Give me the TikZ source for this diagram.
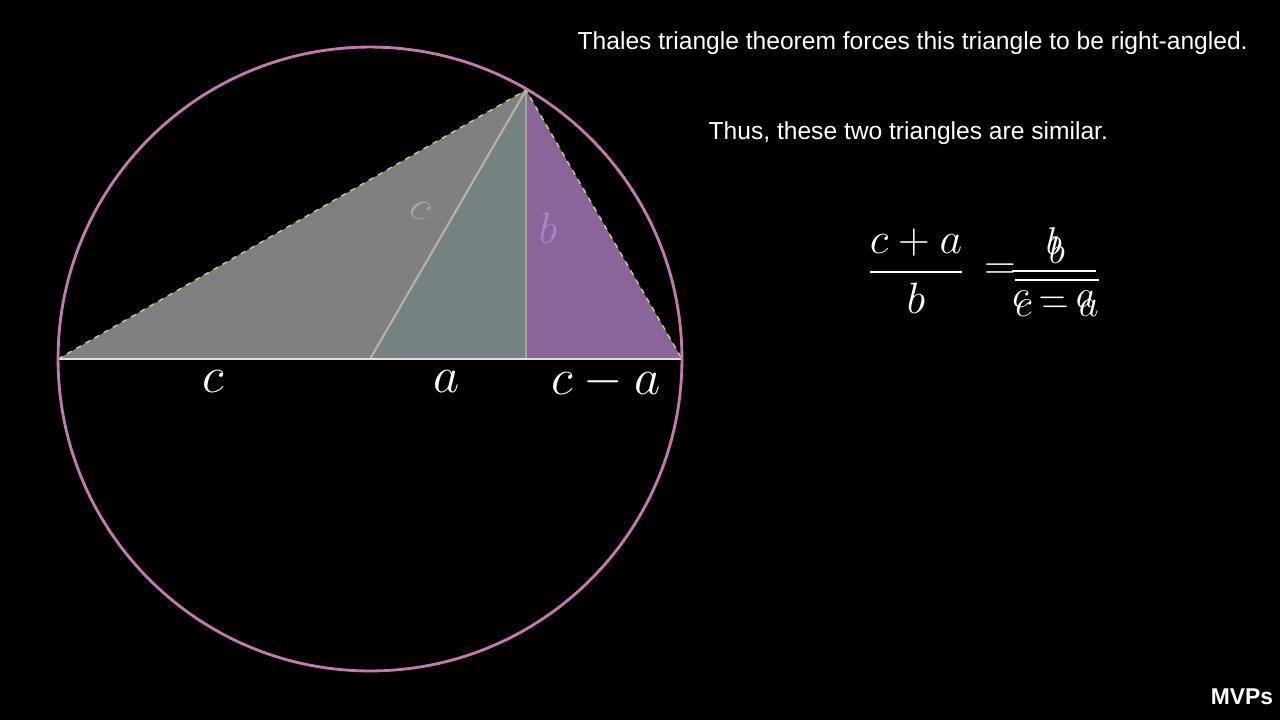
\RequirePackage{fix-cm}
\documentclass[tikz,border=0pt]{standalone}
\usepackage{amsmath}
\usepackage{fontspec}
\setmainfont{Liberation Sans}
\definecolor{circpink}{RGB}{196,122,176}
\definecolor{leftgray}{RGB}{128,128,128}
\definecolor{midgray}{RGB}{118,130,130}
\definecolor{violetfill}{RGB}{138,100,155}
\definecolor{dashyellow}{RGB}{205,205,120}
\definecolor{fadegray}{RGB}{165,165,165}
\definecolor{fadeviolet}{RGB}{172,132,196}

\begin{document}
\begin{tikzpicture}[x=0.02cm, y=-0.02cm, thick,
        circline/.style={draw=circpink, line width=1.6pt},
        edgeline/.style={draw=white!75!gray, line width=1.2pt},
        dashline/.style={draw=dashyellow, dashed, line width=0.8pt},
        mathlabel/.style={text=white, font=\fontsize{25}{29}\selectfont, inner sep=0pt},
        caption/.style={text=white, anchor=west, font=\fontsize{14}{17}\selectfont, inner sep=0pt}]
        % Background
        \fill[black] (0,0) rectangle (1280,720);
        \useasboundingbox (0,0) rectangle (1280,720);
        
        % Points on the diameter and on the circle
        \coordinate (A) at (58,359);
        \coordinate (O) at (370,359);
        \coordinate (F) at (526,359);
        \coordinate (B) at (682,359);
        \coordinate (P) at (526,90);
        
        % Filled triangles
        \fill[leftgray] (A) -- (P) -- (F) -- cycle;
        \fill[midgray] (O) -- (P) -- (F) -- cycle;
        \fill[violetfill] (F) -- (P) -- (B) -- cycle;
        
        % Inner edges
        \draw[edgeline, draw=gray!60!white] (O) -- (P);
        \draw[edgeline, draw=gray!70!white] (P) -- (F);
        \draw[edgeline] (A) -- (B);
        \draw[dashline] (A) -- (P) -- (B);
        
        % Circle
        \draw[circline] (O) circle[radius=6.24cm];
        
        % Faded labels inside
        \node[mathlabel, text=fadegray, rotate=-30] (lc) at (420,210) {$c$};
        \node[mathlabel, text=fadeviolet] (lb) at (548,228) {$b$};
        
        % Labels under the diameter
        \node[mathlabel, font=\fontsize{29}{33}\selectfont] (lblc) at (213,382) {$c$};
        \node[mathlabel, font=\fontsize{29}{33}\selectfont] (lbla) at (447,382) {$a$};
        \node[mathlabel, font=\fontsize{29}{33}\selectfont] (lblca) at (606,382) {$c-a$};
        
        % Captions
        \node[caption] (cap1) at (577,43) {Thales triangle theorem forces this triangle to be right-angled.};
        \node[caption] (cap2) at (708,133) {Thus, these two triangles are similar.};
        
        % Equation
        \node[mathlabel] (lhs) at (916,271) {$\dfrac{c+a}{b}$};
        \node[mathlabel] (eq) at (1000,272) {$=$};
        \node[mathlabel, font=\fontsize{22}{26}\selectfont] (rhsa) at (1054,269) {$\dfrac{b}{c-a}$};
        \node[mathlabel, font=\fontsize{22}{26}\selectfont] (rhsb) at (1057,278) {$\dfrac{b}{c-a}$};
        
        % Logo
        \node[caption, anchor=center, font=\fontsize{13}{15}\selectfont\bfseries] (logo) at (1242,697) {MVPs};
\end{tikzpicture}
\end{document}
